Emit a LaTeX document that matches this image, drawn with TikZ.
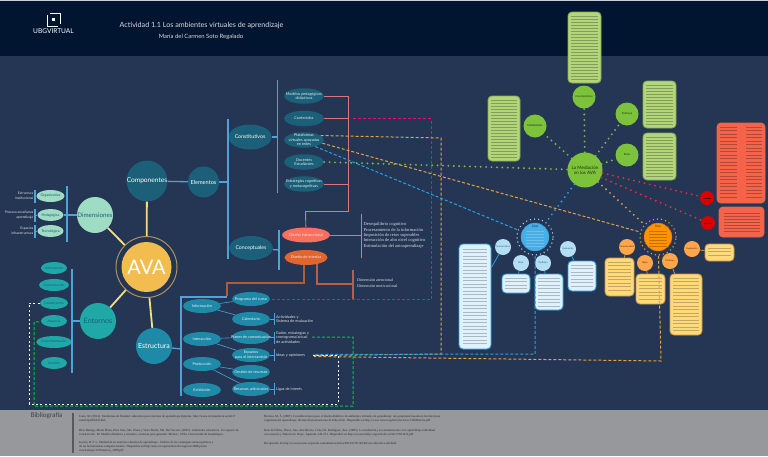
\documentclass[tikz,border=0pt]{standalone}
\usepackage{fontspec}
\setmainfont{Lato}
\newfontfamily\serifa{Liberation Serif}
\usetikzlibrary{shapes.geometric}
\definecolor{fondo}{HTML}{243654}
\definecolor{banda}{HTML}{011430}
\definecolor{pie}{HTML}{97989C}
\definecolor{petroleo}{HTML}{1B5F78}
\definecolor{menta}{HTML}{9FDCC4}
\definecolor{turquesa}{HTML}{1FA8A6}
\definecolor{azulc}{HTML}{1E8AA8}
\definecolor{barra}{HTML}{4FA3D8}
\definecolor{rosa}{HTML}{D9777A}
\definecolor{cafe}{HTML}{B05A3A}
\definecolor{verde}{HTML}{7DC23B}
\definecolor{verdec}{HTML}{B4D67A}
\definecolor{rojo}{HTML}{E52D3B}
\definecolor{rojoc}{HTML}{F4634A}
\definecolor{azul}{HTML}{29A0E0}
\definecolor{azulp}{HTML}{DFF1FB}
\definecolor{naranja}{HTML}{E8A33D}
\definecolor{naranjac}{HTML}{FFD97A}
\definecolor{oro}{HTML}{F2BC4E}
\definecolor{crema}{HTML}{F3DF7F}
\definecolor{interfaz}{HTML}{E0652F}
\definecolor{instruc}{HTML}{F9705F}
\newcommand{\renglones}[6]{\foreach \k in {#3,#4,...,#5}{\draw[#6,line width=.8pt,opacity=.38] (#1,\k) -- (#2,\k);}}
\begin{document}
\begin{tikzpicture}
[   x=1pt,y=-1pt,
    cnode/.style={circle,fill=#1,inner sep=0pt},
    enode/.style={ellipse,fill=#1,inner sep=0pt},
    caja/.style={draw=#1,rounded corners=4pt,line width=.9pt,inner sep=0pt},
    tx/.style={label={[align=center,inner sep=0pt,text=#1,font=\fontsize{3.8}{4.4}\selectfont]center:\etiqueta}},
    nota/.style={anchor=west,inner sep=0pt,align=left,text=white!85!fondo,font=\fontsize{3.8}{4.4}\selectfont},
    nota2/.style={anchor=west,inner sep=0pt,text=white!85!fondo,font=\serifa\fontsize{4.5}{6}\selectfont},
    biblio/.style={anchor=north west,inner sep=0pt,align=left,text=black!85,font=\serifa\fontsize{3.1}{3.9}\selectfont},
    bar/.style={barra,line width=1.3pt},
    sel/.style={barra,line width=.6pt},
    amar/.style={draw=crema,line width=1.8pt},
    punt/.style={#1,line width=2.1pt,line cap=round,dash pattern=on 0pt off 5.4pt},
    guion/.style={#1,line width=1pt,dash pattern=on 3pt off 2pt},
]
    \useasboundingbox (0,0) rectangle (768,456);
    \fill[fondo] (0,0) rectangle (768,456);
    \fill[banda] (0,1) rectangle (768,56);
    \fill[white!80!banda] (0,0) rectangle (768,1);
    \fill[pie] (0,410) rectangle (768,456);

    % cabecera
    \draw[white,line width=.7pt] (50,13) -- (60,13) -- (60,24);
    \draw[white,line width=.7pt] (47,15) -- (47,26) -- (58,26);
    \fill[white] (52.2,18.4) rectangle (55,21.2);
    \node[inner sep=0pt,text=white,font=\fontsize{6.6}{7}\selectfont] (logo) at (53.5,31) {UBGVIRTUAL};
    \node[inner sep=0pt,text=white!85!banda,font=\fontsize{7.15}{8}\selectfont] (titulo) at (201.5,26) {Actividad 1.1 Los ambientes virtuales de aprendizaje};
    \node[inner sep=0pt,text=white!85!banda,font=\fontsize{5.9}{7}\selectfont] (autora) at (201,37) {María del Carmen Soto Regalado};

    % nodos grandes
    \node[circle,draw=naranja!50!gray,line width=1pt,minimum size=61pt,inner sep=0pt] (anillo) at (146.5,267) {};
    \node[cnode=oro,minimum size=50pt,text=white,font=\fontsize{20}{22}\selectfont] (ava) at (146.5,267) {AVA};
    \node[cnode=petroleo,minimum size=39pt,text=white,font=\fontsize{6.6}{7}\selectfont] (comp) at (147,181) {Componentes};
    \node[cnode=petroleo,minimum size=31pt,text=white,font=\fontsize{5.6}{7}\selectfont] (elem) at (203.5,182) {Elementos};
    \node[cnode=menta,minimum size=36pt,text=petroleo,font=\fontsize{6.2}{7}\selectfont] (dim) at (95,215) {Dimensiones};
    \node[cnode=turquesa,minimum size=36pt,text=petroleo,font=\fontsize{7.2}{8}\selectfont] (ent) at (98,321) {Entornos};
    \node[cnode=azulc,minimum size=36pt,text=white,font=\fontsize{7}{8}\selectfont] (est) at (154,346) {Estructura};
    \node[enode=petroleo,minimum width=32pt,minimum height=25pt,text=white,font=\fontsize{5.2}{6}\selectfont] (cons) at (250,137) {Constitutivos};
    \node[enode=petroleo,minimum width=32pt,minimum height=24pt,text=white,font=\fontsize{5.2}{6}\selectfont] (conc) at (251,248) {Conceptuales};

    \draw[amar] (comp) -- (anillo);
    \draw[amar] (dim) -- (anillo);
    \draw[amar] (ent) -- (anillo);
    \draw[amar] (anillo) -- (est);

    % dimensiones
    \foreach \n/\y/\t/\e in {1/196/Organizativa/{Estructura\\institucional},2/215/Pedagógica/{Proceso enseñanza\\aprendizaje},3/231/Tecnológica/{Espacios\\infraestructura}}
    {   \node[enode=menta,minimum width=26pt,minimum height=12pt,text=petroleo,font=\fontsize{3.6}{4}\selectfont] (d-\n) at (50.5,\y) {\t};
        \coordinate (da-\n) at (35,\y-6.5);
        \coordinate (db-\n) at (35,\y+6.5);
        \coordinate (dm-\n) at (35,\y);
        \draw[bar] (da-\n) -- (db-\n);
        \draw[sel,line width=.9pt] (dm-\n) -- (d-\n);
        \node[anchor=east,align=right,inner sep=0pt,text=white!85!fondo,font=\fontsize{3.4}{4.6}\selectfont] (de-\n) at (33.5,\y) {\e};
    }
    \coordinate (dt) at (67,186);
    \coordinate (du) at (67,242);
    \coordinate (dv) at (67,215);
    \draw[bar] (dt) -- (du);
    \draw[bar] (dv) -- (dim);
    \draw[bar] (dv) -- (d-2);

    % entornos
    \foreach \n/\y/\t in {1/268/Información,2/285/Comunicación,3/303/Colaboración,4/321/Asesoría,5/342/Experimentación,6/363/Gestión}
    {   \node[enode=turquesa,minimum width=26pt,minimum height=12pt,text=petroleo,font=\fontsize{3.4}{4}\selectfont] (e-\n) at (54,\y) {\t};
    }
    \coordinate (et) at (72,269);
    \coordinate (eu) at (72,373);
    \coordinate (ev) at (72,321);
    \draw[bar] (et) -- (eu);
    \draw[bar] (ev) -- (ent);

    % elementos
    \coordinate (elt) at (228,119);
    \coordinate (elu) at (228,259);
    \coordinate (elv) at (228,182);
    \draw[bar] (comp) -- (elem);
    \draw[bar] (elt) -- (elu);
    \draw[bar] (elem) -- (elv);
    \coordinate (ct) at (277.5,80);
    \coordinate (cu) at (277.5,193);
    \coordinate (cv) at (277.5,137);
    \draw[bar] (ct) -- (cu);
    \draw[bar] (cons) -- (cv);
    \coordinate (kt) at (279,230);
    \coordinate (ku) at (279,270);
    \coordinate (kv) at (279,250);
    \draw[bar] (kt) -- (ku);
    \draw[bar] (conc) -- (kv);

    % constitutivos
    \foreach \n/\y/\t in {1/96/{Modelos pedagógicos\\didácticos},2/118.5/{Contenidos},3/140/{Plataformas\\virtuales apoyadas\\en redes},4/162/{Docentes\\Estudiantes},5/184/{Estrategias cognitivas\\y metacognitivas}}
    {   \def\etiqueta{\t}
        \node[enode=petroleo,minimum width=40pt,minimum height=15.5pt,tx=white!90!petroleo] (c-\n) at (304,\y) {};
    }
    \coordinate (rt) at (348,96);
    \coordinate (rc) at (348,118.5);
    \coordinate (re) at (348,184);
    \coordinate (ru) at (348,211);
    \coordinate (rv) at (305.5,211);
    \draw[rosa,line width=.9pt] (c-1) -- (rt) -- (ru) -- (rv);
    \draw[rosa,line width=.9pt] (c-2) -- (rc);
    \draw[rosa,line width=.9pt] (c-5) -- (re);

    % conceptuales
    \node[enode=instruc,minimum width=40pt,minimum height=15pt,text=white!90!red,font=\fontsize{3.8}{4}\selectfont] (di) at (306,235) {Diseño instruccional};
    \node[enode=interfaz,minimum width=41pt,minimum height=15pt,text=white!90!red,font=\fontsize{3.8}{4}\selectfont] (dz) at (306,257.5) {Diseño de interfaz};
    \draw[rosa,line width=.9pt] (rv) -- (di);
    \coordinate (pt) at (361,214);
    \coordinate (pu) at (361,258);
    \coordinate (pv) at (361,235);
    \draw[rosa,line width=.9pt] (pt) -- (pu);
    \draw[rosa,line width=.9pt] (di) -- (pv);
    \foreach \y/\t in {224/Desequilibrio cognitivo,229.5/Procesamiento de la información,235/Imposición de retos superables,240.5/Interacción de alto nivel cognitivo,246/Estimulación del autoaprendizaje}
    {   \node[nota2] at (363.5,\y) {\t};
    }
    \coordinate (za) at (304,265);
    \coordinate (zb) at (304,283);
    \coordinate (zc) at (227,283);
    \coordinate (zd) at (227,296);
    \draw[cafe,line width=2pt] (za) -- (zb) -- (zc) -- (zd);
    \coordinate (ya) at (317,264);
    \coordinate (yb) at (317,284);
    \coordinate (yc) at (353,284);
    \coordinate (yt) at (353,270);
    \coordinate (yu) at (353,299);
    \draw[cafe!80!rosa,line width=1.1pt] (ya) -- (yb) -- (yc);
    \draw[cafe!80!rosa,line width=1.1pt] (yt) -- (yu);
    \node[nota2,font=\serifa\fontsize{4.1}{5}\selectfont] at (357,280) {Dimensión atencional};
    \node[nota2,font=\serifa\fontsize{4.1}{5}\selectfont] at (357,286.5) {Dimensión motivacional};

    % estructura
    \coordinate (st) at (181,297);
    \coordinate (su) at (181,396);
    \coordinate (sv) at (181,349);
    \coordinate (sw) at (227,297);
    \draw[bar] (sw) -- (st) -- (su);
    \draw[bar] (est) -- (sv);
    \foreach \n/\y/\t in {1/306/Información,2/339/Interacción,3/364/Producción,4/390/Exhibición}
    {   \node[enode=azulc,minimum width=38pt,minimum height=14pt,text=white!90!azulc,font=\fontsize{3.8}{4}\selectfont] (s-\n) at (202,\y) {\t};
    }
    \foreach \n/\y/\t in {1/299/{Programa del curso},2/319/{Calendario},3/337/{Planes de comunicación},4/355/{Espacios\\para el intercambio},5/372/{Gestión de recursos},6/389/{Recursos adicionales}}
    {   \def\etiqueta{\t}
        \node[enode=azulc,minimum width=38pt,minimum height=14pt,tx=white!90!azulc] (t-\n) at (251,\y) {};
    }
    \foreach \a/\b in {1/1,1/2,2/3,2/4,3/5,3/6}
    {   \draw[sel] (s-\a) -- (t-\b);
    }
    \foreach \b/\y in {2/319,3/337.5,4/355,6/389}
    {   \coordinate (ba-\b) at (274,\y-6);
        \coordinate (bb-\b) at (274,\y+6);
        \coordinate (bc-\b) at (274,\y);
        \draw[bar,line width=.9pt] (ba-\b) -- (bb-\b);
        \draw[sel,line width=.9pt] (t-\b) -- (bc-\b);
    }
    \node[nota] at (276,319) {Actividades y\\Sistema de evaluación};
    \node[nota] at (276,337.5) {Guión, estrategias y\\cronograma/actual\\de actividades};
    \node[nota] at (276,355) {Ideas y opiniones};
    \node[nota] at (276,389) {Ligas de interés};

    % mediacion
    \node[cnode=verde,minimum size=35pt,align=center,text=black!75!verde,font=\fontsize{4.6}{5}\selectfont] (med) at (585,170) {La Mediación\\en los AVA};
    \foreach \n/\x/\y/\t in {1/584/97/Características,2/627/114/Participa,3/627/155/Roles,4/535/126/Modalidades}
    {   \node[cnode=verde,minimum size=23pt,text=black!75!verde,font=\fontsize{2.7}{3}\selectfont] (m-\n) at (\x,\y) {\t};
        \draw[punt=verde!80!gray] (med) -- (m-\n);
    }
    \foreach \n/\x/\y/\w/\h in {1/584.5/47.5/33/71,2/659.5/104.5/33/47,3/659.5/156.5/33/47,4/504/128.5/32/65}
    {   \node[caja=verde!70!gray,fill=verdec,minimum width=\w pt,minimum height=\h pt] (g-\n) at (\x,\y) {};
    }
    \renglones{571}{598}{16}{19}{80}{black!70!verdec}
    \renglones{646}{673}{85}{88}{125}{black!70!verdec}
    \renglones{646}{673}{137}{140}{177}{black!70!verdec}
    \renglones{491}{517}{100}{103}{158}{black!70!verdec}

    % rojo
    \node[cnode=red!85!black,minimum size=14pt] (r-1) at (707,198) {};
    \node[cnode=red!85!black,minimum size=14pt] (r-2) at (708,223) {};
    \node[caja=rojoc!80!gray,fill=rojoc,minimum width=48pt,minimum height=80pt] (rb-1) at (741,163) {};
    \node[caja=rojoc!80!gray,fill=rojoc,minimum width=45pt,minimum height=30pt] (rb-2) at (741.5,222) {};
    \renglones{720}{737}{127}{130.5}{199}{black!70!rojoc}
    \renglones{746}{762}{127}{130.5}{199}{black!70!rojoc}
    \renglones{724}{760}{213}{216}{232}{black!70!rojoc}
    \draw[black!60!red,line width=.5pt] (703,198) -- (711,198);
    \draw[black!60!red,line width=.5pt] (704,223) -- (712,223);
    \draw[punt=rojo] (med.-10) -- (r-1);
    \draw[punt=rojo] (med.-25) -- (r-2);

    % chat
    \node[cnode=azul!85!white,draw=azul,minimum size=28pt] (chat) at (535,237) {};
    \node[circle,draw=azul!50!white,line width=1.5pt,dash pattern=on .1pt off 4pt,line cap=round,minimum size=36pt,inner sep=0pt] (chatr) at (535,237) {};
    \renglones{526}{544}{231}{234}{247}{white!60!azul}
    \node[inner sep=0pt,text=black!70!azul,font=\fontsize{3}{3}\selectfont] (chatt) at (535,226.5) {Chat};
    \foreach \n/\x/\y/\t in {1/503/247/Características,2/521/263/Roles,3/543/263/Participa,4/568/249/Evaluación}
    {   \node[cnode=azul!35!white,minimum size=16pt,text=petroleo,font=\fontsize{2.3}{3}\selectfont] (a-\n) at (\x,\y) {\t};
    }
    \foreach \n/\x/\y/\w/\h in {1/475/296.5/32/105,2/516/283.5/28/19,3/549/292/28/36,4/582/276/28/30}
    {   \node[caja=azul,fill=azulp,minimum width=\w pt,minimum height=\h pt] (ab-\n) at (\x,\y) {};
        \draw[azul,line width=.8pt] (a-\n) -- (ab-\n);
    }
    \renglones{463}{487}{249}{252.5}{346}{black!60!azulp}
    \renglones{505}{527}{278}{281.5}{290}{black!60!azulp}
    \renglones{538}{560}{278}{281.5}{306}{black!60!azulp}
    \renglones{571}{593}{265}{268.5}{288}{black!60!azulp}

    % foro
    \node[cnode=orange!85!yellow,draw=orange!80!black,minimum size=28pt] (foro) at (658,237) {};
    \node[circle,draw=naranja,line width=1.5pt,dash pattern=on .1pt off 4pt,line cap=round,minimum size=36pt,inner sep=0pt] (foror) at (658,237) {};
    \renglones{649}{667}{231}{234}{247}{black!60!orange}
    \node[inner sep=0pt,text=black!70!orange,font=\fontsize{3}{3}\selectfont] (forot) at (658,226.5) {Foro};
    \foreach \n/\x/\y/\t in {1/627/247/Características,2/645/263/Roles,3/670/261/Participa,4/692/249/Evaluación}
    {   \node[cnode=orange!70!white,minimum size=16pt,text=black!70!orange,font=\fontsize{2.3}{3}\selectfont] (o-\n) at (\x,\y) {\t};
    }
    \foreach \n/\x/\y/\w/\h in {1/619.5/277/29/38,2/650.5/289/29/30,3/686/304.5/32/61,4/719.5/252.5/29/17}
    {   \node[caja=naranja!70!gray,fill=naranjac,minimum width=\w pt,minimum height=\h pt] (ob-\n) at (\x,\y) {};
        \draw[naranja!70!gray,line width=.8pt] (o-\n) -- (ob-\n);
    }
    \renglones{608}{631}{262}{265.5}{293}{black!60!naranjac}
    \renglones{639}{662}{278}{281.5}{301}{black!60!naranjac}
    \renglones{673}{699}{278}{281.5}{331}{black!60!naranjac}
    \renglones{708}{731}{248}{251.5}{258}{black!60!naranjac}

    % punteadas
    \draw[punt=verde!85!gray] (c-4.east) -- (med);
    \draw[punt=azul] (med) -- (chatr);
    \draw[punt=naranja!80!gray] (med) -- (foror);

    \coordinate (fa) at (353,118.5);
    \coordinate (fb) at (431,118.5);
    \coordinate (fc) at (431,299);
    \draw[guion=magenta!75!red] (fa) -- (fb) -- (fc) -- (t-1);
    \coordinate (ga) at (441,138);
    \coordinate (gb) at (441,354);
    \coordinate (gc) at (313,355.5);
    \draw[guion=naranja] (c-3.15) -- (ga) -- (gb) -- (gc);
    \draw[guion=naranja] (c-3.-10) -- (foror);
    \draw[guion=azul] (c-3.-30) -- (chatr);
    \coordinate (hb) at (661,361);
    \coordinate (hc) at (314,356.5);
    \draw[guion=naranja] (foror) -- (hb) -- (hc);
    \coordinate (jb) at (535,354);
    \coordinate (jc) at (313,354.5);
    \draw[guion=azul] (chatr) -- (jb) -- (jc);
    \coordinate (wa) at (313,355);
    \coordinate (wb) at (338,355);
    \coordinate (wc) at (338,404);
    \coordinate (wd) at (29,404);
    \coordinate (we) at (29,303);
    \draw[white,line width=.9pt,dash pattern=on 2pt off 2.4pt] (wa) -- (wb) -- (wc) -- (wd) -- (we) -- (e-3);
    \coordinate (va) at (312,337);
    \coordinate (vb) at (353,337);
    \coordinate (vc) at (353,406);
    \coordinate (vd) at (34,406);
    \coordinate (ve) at (34,322);
    \draw[guion=green!60!teal] (va) -- (vb) -- (vc) -- (vd) -- (ve) -- (e-4);

    % bibliografia
    \node[inner sep=0pt,text=black!75,font=\fontsize{6.5}{7}\selectfont] (bib) at (46.5,416) {Bibliografía};
    \coordinate (ba) at (73,413);
    \coordinate (bb) at (73,453);
    \draw[black!65,line width=1.2pt] (ba) -- (bb);
    \node[biblio] at (79,415) {Cano, M. (2014). Tendencias de blended: educativo para entornos de aprendizaje digitales. http://www.revistaeducar.es/ed/17\\num33/pdf/Ed33.htm};
    \node[biblio] at (79,429) {Díaz Barriga, María Elena, Díaz Soto, Ma. Elena y Viera Borda, Ma. Del Socorro (2007). Ambientes educativos. Un espacio de\\construcción. En Modelo dinámico y virtuales, comunes para aprender. México: UDG, Universidad de Guadalajara.};
    \node[biblio] at (79,441.5) {García, B. F. L. Mediación en entornos virtuales de aprendizaje. Análisis de las estrategias metacognitivas y\\de las herramientas computacionales. Disponible en http://sites.ul.org/mediación/congreso/2006/ponen\\cias/trabajos/13/Ponencia\_1980.pdf};
    \node[biblio] at (264,415) {Herrera, M. Á. (2007). Consideraciones para el diseño didáctico de ambientes virtuales de aprendizaje: una propuesta basada en las funciones\\cognitivas del aprendizaje. Revista Iberoamericana de Educación. Disponible en http://www.rieoei.org/deloslectores/1326Herrera.pdf};
    \node[biblio] at (264,429) {Ruiz del Olmo, Rivas, Ana, Ana Rivero, Lilia, Ed. Rodríguez, Ana. (2005). La mediación y la comunicación en el aprendizaje individual\\con asesoría y Educación. Rayo, Aprenda, 245-251. Disponible en http://www.redalyc.org/articulo.oa?id=27011412.pdf};
    \node[biblio] at (264,442.5) {Recuperado de http://ocw.usu.umo.es/ponde-comunitarios/tarlos/2014/12/0/142/04/con-educativo-del.html};
\end{tikzpicture}
\end{document}
